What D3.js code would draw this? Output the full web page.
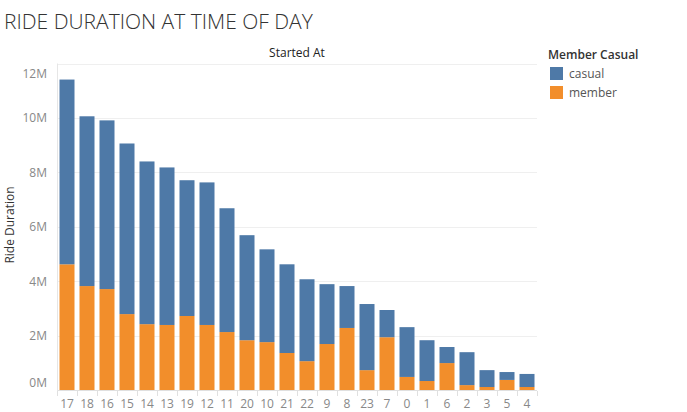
<!DOCTYPE html>
<html>
<head>
<meta charset="utf-8">
<script src="https://cdn.jsdelivr.net/npm/d3@7"></script>
<style>
  html, body { margin: 0; padding: 0; background: #fff; }
  svg { display: block; }
  text { font-family: "Open Sans", "Lato", sans-serif; }
</style>
</head>
<body>
<svg id="chart" width="687" height="412"></svg>
<script>
// ---- data ----
const hours = ["17","18","16","15","14","13","19","12","11","20","10","21","22","9","8","23","7","0","1","6","2","3","5","4"];
const memberValues = [4.62,3.82,3.71,2.79,2.42,2.39,2.72,2.39,2.13,1.83,1.76,1.36,1.06,1.69,2.28,0.73,1.94,0.48,0.33,0.99,0.18,0.11,0.37,0.11].map(v => v * 1e6);
const totalValues  = [11.41,10.06,9.91,9.06,8.40,8.18,7.71,7.63,6.68,5.69,5.17,4.62,4.07,3.89,3.82,3.16,2.94,2.31,1.83,1.58,1.39,0.73,0.66,0.59].map(v => v * 1e6);
const casualValues = totalValues.map((t, i) => t - memberValues[i]);
const seriesNames = ["casual", "member"];
const yTicks = [0, 2e6, 4e6, 6e6, 8e6, 10e6, 12e6];
const colors = { casual: "#4e79a7", member: "#f28e2b" };

// ---- layout ----
const svg = d3.select("#chart");
const plot = { left: 57, right: 537, top: 63.5, bottom: 390 };

const x = d3.scaleBand().domain(hours).range([plot.left, plot.right]).paddingInner(0.25).paddingOuter(0.125);
const y = d3.scaleLinear().domain([0, 12e6]).range([plot.bottom, plot.top]);

// title
svg.append("text").attr("x", 4).attr("y", 29)
  .attr("font-size", 21).attr("font-weight", 300).attr("fill", "#333")
  .text("RIDE DURATION AT TIME OF DAY");

// header
svg.append("text").attr("x", (plot.left + plot.right) / 2).attr("y", 57)
  .attr("text-anchor", "middle").attr("font-size", 12).attr("font-weight", 400).attr("fill", "#222")
  .text("Started At");

// gridlines
svg.append("g").selectAll("line").data(yTicks).join("line")
  .attr("x1", plot.left).attr("x2", plot.right)
  .attr("y1", d => Math.round(y(d)) + 0.5).attr("y2", d => Math.round(y(d)) + 0.5)
  .attr("stroke", d => d === 0 ? "#e0e0e0" : "#efefef").attr("stroke-width", 1);

// y axis line
svg.append("line").attr("x1", plot.left + 0.5).attr("x2", plot.left + 0.5)
  .attr("y1", plot.top).attr("y2", plot.bottom + 6).attr("stroke", "#e6e6e6");

// stacked bars
const rows = hours.map((h, i) => ({ hour: h, member: memberValues[i], casual: casualValues[i] }));
const stack = d3.stack().keys(["member", "casual"])(rows);
svg.append("g").selectAll("g").data(stack).join("g")
  .attr("fill", d => colors[d.key])
  .selectAll("rect").data(d => d).join("rect")
  .attr("x", d => x(d.data.hour))
  .attr("width", x.bandwidth())
  .attr("y", d => y(d[1]))
  .attr("height", d => y(d[0]) - y(d[1]));

// y axis
const yAxis = svg.append("g").attr("transform", `translate(${plot.left - 7},0)`)
  .call(d3.axisLeft(y).tickValues(yTicks).tickSize(0).tickFormat(d => (d / 1e6) + "M"));
yAxis.select(".domain").remove();
yAxis.selectAll("text").attr("font-size", 12).attr("fill", "#888")
  .attr("font-family", '"Open Sans", sans-serif')
  .attr("dy", d => d === 12e6 ? "1.15em" : d === 0 ? "-0.3em" : "0.32em");

// y title
svg.append("text").attr("transform", "translate(14,225) rotate(-90)")
  .attr("text-anchor", "middle").attr("font-size", 12).attr("fill", "#333")
  .text("Ride Duration");

// x axis
const xAxis = svg.append("g").attr("transform", `translate(0,${plot.bottom})`)
  .call(d3.axisBottom(x).tickSize(0).tickPadding(9));
xAxis.select(".domain").remove();
xAxis.selectAll("text").attr("font-size", 12).attr("fill", "#888")
  .attr("font-family", '"Open Sans", sans-serif');
// tick marks at band boundaries
const bounds = hours.map(h => x(h) - x.step() * x.paddingInner() / 2).concat([plot.right]);
svg.append("g").selectAll("line").data(bounds).join("line")
  .attr("x1", d => Math.round(d) + 0.5).attr("x2", d => Math.round(d) + 0.5)
  .attr("y1", plot.bottom + 1).attr("y2", plot.bottom + 6).attr("stroke", "#e0e0e0");

// legend
const lg = svg.append("g").attr("transform", "translate(548,0)");
lg.append("text").attr("x", 0).attr("y", 59).attr("font-size", 12).attr("font-weight", 600).attr("fill", "#333")
  .text("Member Casual");
const items = lg.selectAll("g.item").data(seriesNames).join("g").attr("class", "item")
  .attr("transform", (d, i) => `translate(2,${67 + i * 19})`);
items.append("rect").attr("width", 13).attr("height", 13).attr("fill", d => colors[d]);
items.append("text").attr("x", 19).attr("y", 6.5).attr("dy", "0.35em")
  .attr("font-size", 12).attr("fill", "#555").text(d => d);
</script>
</body>
</html>
